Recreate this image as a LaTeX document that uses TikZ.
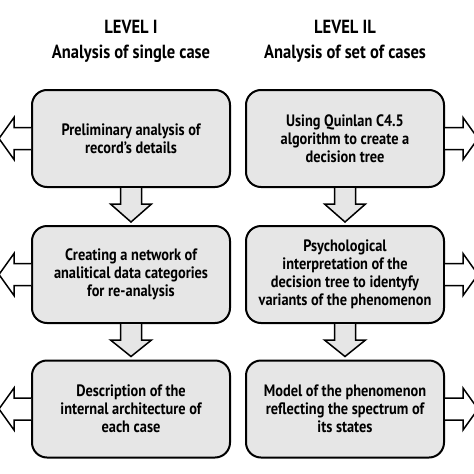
\documentclass[tikz,border=0pt]{standalone}
\usepackage{fontspec}
\setmainfont{PT Sans}[FakeStretch=0.87]
\usetikzlibrary{calc}
\definecolor{boxgray}{RGB}{230,230,230}
\begin{document}
\begin{tikzpicture}[x=1pt,y=-1pt,
  stepbox/.style={draw=black, line width=2pt, fill=boxgray, rounded corners=15pt,
    minimum width=198pt, minimum height=97pt, align=center, inner sep=0pt,
    font=\bfseries\fontsize{16.5}{18}\selectfont},
  title/.style={align=center, font=\bfseries\fontsize{19}{25}\selectfont},
  downarrow/.style={draw=black, line width=1.5pt, fill=boxgray, line join=miter},
  sidearrow/.style={draw=black, line width=1.5pt, fill=white, line join=miter}]
\useasboundingbox (0,0) rectangle (474,474);
\clip (0,0) rectangle (474,474);
\fill[white] (0,0) rectangle (474,474);

\node[title] (t1) at (131,41) {LEVEL I\\Analysis of single case};
\node[title] (t2) at (345,41) {LEVEL IL\\Analysis of set of cases};

\node[stepbox] (L1) at (131,138.5) {Preliminary analysis of\\record's details};
\node[stepbox] (L2) at (131,274.5) {Creating a network of\\analitical data categories\\for re-analysis};
\node[stepbox] (L3) at (131,409) {Description of the\\internal architecture of\\each case};

\node[stepbox] (R1) at (345,138.5) {Using Quinlan C4.5\\algorithm to create a\\decision tree};
\node[stepbox] (R2) at (345,274.5) {Psychological\\interpretation of the\\decision tree to identyfy\\variants of the phenomenon};
\node[stepbox] (R3) at (345,409) {Model of the phenomenon\\reflecting the spectrum of\\its states};

% down arrows
\foreach \a/\b in {L1/L2,L2/L3,R1/R2,R2/R3}{
  \draw[downarrow] ($(\a.south)+(-10.5,0)$) -- ($(\a.south)+(-10.5,16)$) -- ($(\a.south)+(-20.5,16)$)
    -- ($(\b.north)+(0,-3)$) -- ($(\a.south)+(20.5,16)$) -- ($(\a.south)+(10.5,16)$) -- ($(\a.south)+(10.5,0)$);
}

% side arrows
\foreach \n in {L1,L2,L3}{
  \draw[sidearrow] ($(\n.west)+(0,-11)$) -- ($(\n.west)+(-17,-11)$) -- ($(\n.west)+(-17,-21)$)
    -- ($(\n.west)+(-32,0)$) -- ($(\n.west)+(-17,21)$) -- ($(\n.west)+(-17,11)$) -- ($(\n.west)+(0,11)$);
}
\foreach \n in {R1,R2,R3}{
  \draw[sidearrow] ($(\n.east)+(0,-11)$) -- ($(\n.east)+(18,-11)$) -- ($(\n.east)+(18,-21)$)
    -- ($(\n.east)+(33,0)$) -- ($(\n.east)+(18,21)$) -- ($(\n.east)+(18,11)$) -- ($(\n.east)+(0,11)$);
}
\end{tikzpicture}
\end{document}
